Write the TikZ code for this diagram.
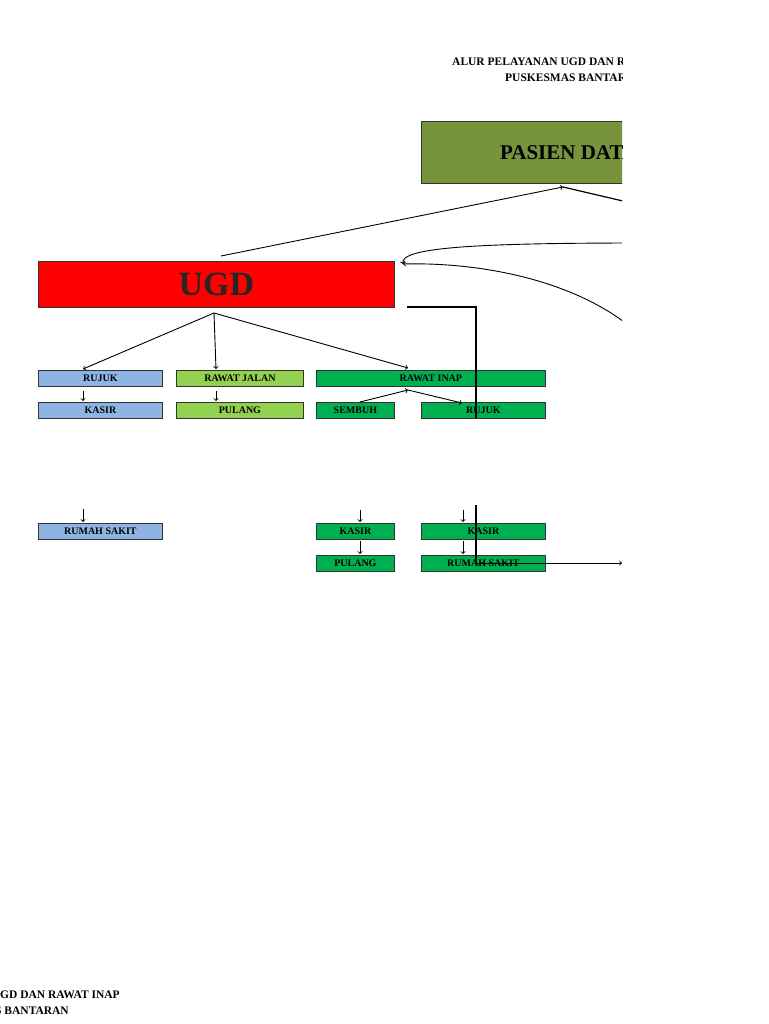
\documentclass[tikz,border=0pt]{standalone}
\usepackage{fontspec}
\setmainfont{Liberation Serif}
\usetikzlibrary{positioning}
\definecolor{ugdred}{HTML}{FF0000}
\definecolor{olive}{HTML}{77933C}
\definecolor{skyb}{HTML}{8EB4E3}
\definecolor{lgreen}{HTML}{92D050}
\definecolor{dgreen}{HTML}{00B050}
\tikzset{
  box/.style={draw=black!80,line width=0.8pt,inner sep=0pt,anchor=north west,font=\bfseries\fontsize{10}{10}\selectfont},
  lbl/.style={font=\bfseries\fontsize{11.5}{12}\selectfont,inner sep=0pt},
  arr/.style={->,>=to,line width=0.9pt},
  ln/.style={line width=1.2pt}
}
\begin{document}
\begin{tikzpicture}[x=1pt,y=-1pt]
\useasboundingbox (0,0) rectangle (768,1024);
\clip (0,0) rectangle (622,1024);
% judul
\node[lbl,anchor=north west] (t1) at (452,58) {ALUR PELAYANAN UGD DAN RAWAT INAP};
\node[lbl,anchor=north west] (t2) at (505,74) {PUSKESMAS BANTARAN};
\node[lbl,anchor=north east] (b1) at (120,991) {ALUR PELAYANAN UGD DAN RAWAT INAP};
\node[lbl,anchor=north east] (b2) at (69,1007) {PUSKESMAS BANTARAN};
% kotak utama
\node[box,fill=olive,minimum width=326pt,minimum height=62pt,font=\bfseries\fontsize{21}{21}\selectfont] (pasien) at (421,121) {PASIEN DATANG};
\node[box,fill=ugdred,minimum width=356pt,minimum height=46pt,font=\bfseries\fontsize{34}{34}\selectfont,text=black!85] (ugd) at (38,261) {UGD};
% rujuk
\node[box,fill=skyb,minimum width=124pt,minimum height=16pt] (rujuk) at (38,370) {RUJUK};
\node[box,fill=skyb,minimum width=124pt,minimum height=16pt] (kasir) at (38,402) {KASIR};
\node[box,fill=skyb,minimum width=124pt,minimum height=16pt] (rs) at (38,523) {RUMAH SAKIT};
% rawat jalan
\node[box,fill=lgreen,minimum width=127pt,minimum height=16pt] (rj) at (176,370) {RAWAT JALAN};
\node[box,fill=lgreen,minimum width=127pt,minimum height=16pt] (rjpulang) at (176,402) {PULANG};
% rawat inap
\node[box,fill=dgreen,minimum width=229pt,minimum height=16pt] (ri) at (316,370) {RAWAT INAP};
\node[box,fill=dgreen,minimum width=78pt,minimum height=16pt] (sembuh) at (316,402) {SEMBUH};
\node[box,fill=dgreen,minimum width=124pt,minimum height=16pt] (rirujuk) at (421,402) {RUJUK};
\node[box,fill=dgreen,minimum width=78pt,minimum height=16pt] (skasir) at (316,523) {KASIR};
\node[box,fill=dgreen,minimum width=78pt,minimum height=16pt] (spulang) at (316,555) {PULANG};
\node[box,fill=dgreen,minimum width=124pt,minimum height=16pt] (rkasir) at (421,523) {KASIR};
\node[box,fill=dgreen,minimum width=124pt,minimum height=16pt] (rrs) at (421,555) {RUMAH SAKIT};
% titik bantu
\coordinate (ugdtop) at (221,256);
\coordinate (ugdbot) at (214,313);
\coordinate (pbot) at (563,187);
\coordinate (pright) at (640,205);
\coordinate (in1) at (640,243);
\coordinate (in2) at (640,335);
\coordinate (ugdin) at (403,264);
\coordinate (c1) at (407,307);
\coordinate (c2) at (476,307);
\coordinate (c3) at (476,418);
\coordinate (d1) at (476,505);
\coordinate (d2) at (476,563);
\coordinate (d3) at (622,563);
\coordinate (mid) at (408,390);
% panah
\draw[arr] (ugdtop) -- (pbot);
\draw[ln] (pbot) -- (pright);
\draw[arr] (in1) .. controls (470,243) and (400,248) .. (ugdin);
\draw[arr] (in2) .. controls (580,280) and (480,262) .. (ugdin);
\draw[ln] (c1) -- (c2) -- (c3);
\draw[arr] (ugdbot) -- (83,369);
\draw[arr] (ugdbot) -- (216,369);
\draw[arr] (ugdbot) -- (408,368);
\draw[arr] (83,391) -- (83,401);
\draw[arr] (216,391) -- (216,401);
\draw[arr] (360,402) -- (mid);
\draw[arr] (mid) -- (462,403);
\draw[arr] (83,509) -- (83,522);
\draw[arr] (360,510) -- (360,522);
\draw[arr] (463,510) -- (463,522);
\draw[arr] (360,541) -- (360,554);
\draw[arr] (463,541) -- (463,554);
\draw[ln] (d1) -- (d2);
\draw[arr] (d2) -- (d3);
\end{tikzpicture}
\end{document}
